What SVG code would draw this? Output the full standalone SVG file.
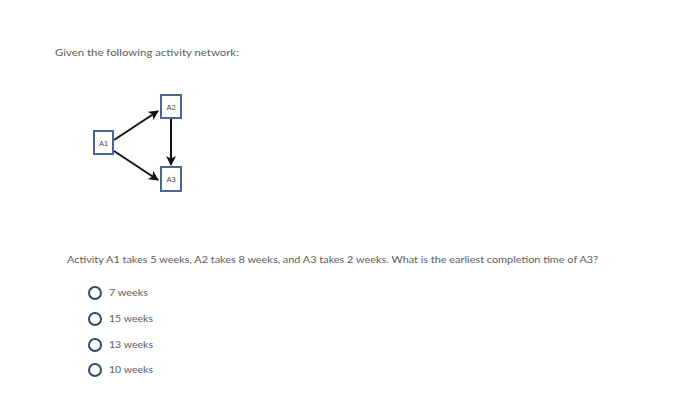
<svg xmlns="http://www.w3.org/2000/svg" width="700" height="412" viewBox="0 0 700 412">
<defs>
<marker id="ah" markerWidth="10" markerHeight="10" refX="9" refY="5" orient="auto" markerUnits="userSpaceOnUse">
<path d="M0,0 L10,5 L0,10 L2.5,5 Z" fill="#111"/>
</marker>
<style>
.t{font-family:Lato,"Liberation Sans",sans-serif;font-size:10px;fill:#5c5c5c}
.n{fill:#fff;stroke:#4a6893;stroke-width:2}
.nl{font-family:"Liberation Sans",sans-serif;font-size:7.5px;fill:#444;text-anchor:middle}
.e{stroke:#111;stroke-width:2;fill:none;marker-end:url(#ah)}
.r{fill:#fff;stroke:#2f4a6e;stroke-width:2}
</style>
</defs>
<rect width="700" height="412" fill="#fff"/>
<text class="t" x="55" y="56" textLength="184" lengthAdjust="spacingAndGlyphs">Given the following activity network:</text>
<g id="connectors">
<line class="e" x1="114" y1="140" x2="158" y2="111"/>
<line class="e" x1="114" y1="151" x2="158" y2="180"/>
<line class="e" x1="171" y1="119" x2="171" y2="165"/>
</g>
<g id="A1"><rect class="n" x="94" y="131" width="19" height="23"/><text class="nl" x="103.5" y="145.5">A1</text></g>
<g id="A2"><rect class="n" x="161" y="95" width="20" height="23"/><text class="nl" x="171" y="109.5">A2</text></g>
<g id="A3"><rect class="n" x="161" y="167" width="20" height="24"/><text class="nl" x="171" y="182">A3</text></g>
<text class="t" x="67" y="263" textLength="531" lengthAdjust="spacingAndGlyphs">Activity A1 takes 5 weeks, A2 takes 8 weeks, and A3 takes 2 weeks. What is the earliest completion time of A3?</text>
<g id="options">
<circle class="r" cx="95" cy="293" r="6"/><text class="t" x="109" y="296" textLength="39" lengthAdjust="spacingAndGlyphs">7 weeks</text>
<circle class="r" cx="95" cy="319" r="6"/><text class="t" x="109" y="322" textLength="44" lengthAdjust="spacingAndGlyphs">15 weeks</text>
<circle class="r" cx="95" cy="345" r="6"/><text class="t" x="109" y="348" textLength="44" lengthAdjust="spacingAndGlyphs">13 weeks</text>
<circle class="r" cx="95" cy="370" r="6"/><text class="t" x="109" y="373" textLength="44" lengthAdjust="spacingAndGlyphs">10 weeks</text>
</g>
</svg>
